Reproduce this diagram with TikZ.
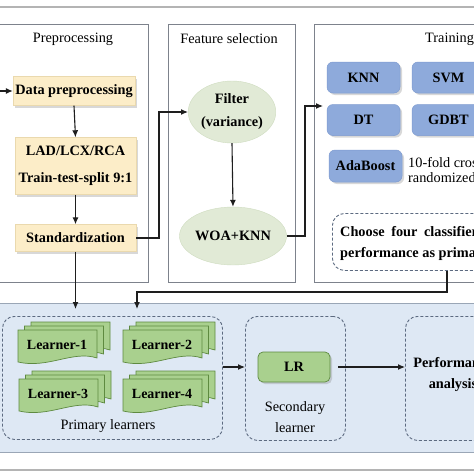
\documentclass[tikz,border=0pt]{standalone}
\usepackage{fontspec}
\setmainfont{Liberation Serif}
\usetikzlibrary{arrows.meta,shadows,shapes.geometric,calc}
\definecolor{yfill}{HTML}{FCEDC8}
\definecolor{yedge}{HTML}{EAD9AE}
\definecolor{bfill}{HTML}{8EAADB}
\definecolor{bedge}{HTML}{7E9BD0}
\definecolor{gfill}{HTML}{E1EAD6}
\definecolor{gedge}{HTML}{CFDCC0}
\definecolor{lfill}{HTML}{A9D08E}
\definecolor{ledge}{HTML}{5E8A40}
\definecolor{panelc}{HTML}{7D828C}
\definecolor{dashc}{HTML}{5C6A80}
\definecolor{bluebg}{HTML}{DEE8F4}
\definecolor{bluedge}{HTML}{9AA6B6}
\definecolor{arrowc}{HTML}{1E1E1E}
\definecolor{topc}{HTML}{B4B4B4}
\newcommand\learnerstack[4]{%
  \begin{scope}[shift={(#2,#3)}]
    \foreach \k in {2,1,0}{
      \path[lpaper, shift={(6.5*\k,-4*\k)}] (0,0) -- (79,0) -- (79,28)
        .. controls (55,20) and (30,39) .. (0,32) -- cycle;
    }
    \node[ltext] (#1) at (39,15) {#4};
  \end{scope}}
\begin{document}
\begin{tikzpicture}[x=1pt,y=-1pt,
  font=\fontsize{14.3}{17}\selectfont,
  arr/.style={-{Latex[length=7pt,width=6pt]}, line width=1.1pt, draw=arrowc},
  panel/.style={draw=panelc, line width=0.9pt},
  topline/.style={draw=topc, line width=1.6pt},
  ybox/.style={fill=yfill, draw=yedge, line width=0.4pt, inner sep=0pt, align=center,
    font=\fontsize{14.3}{17}\selectfont\bfseries,
    drop shadow={shadow xshift=2pt, shadow yshift=-2pt, opacity=0.3}},
  bbox/.style={fill=bfill, draw=bedge, line width=0.5pt, rounded corners=6pt, inner sep=0pt,
    minimum width=73, minimum height=31, font=\fontsize{14.3}{17}\selectfont\bfseries,
    drop shadow={shadow xshift=2pt, shadow yshift=-2pt, opacity=0.3}},
  gell/.style={ellipse, fill=gfill, draw=gedge, line width=0.4pt, inner sep=0pt, align=center,
    font=\fontsize{14.3}{17}\selectfont\bfseries},
  dbox/.style={draw=dashc, dash pattern=on 3pt off 2pt, line width=0.9pt, rounded corners=12pt, inner sep=0pt},
  lpaper/.style={fill=lfill, draw=ledge, line width=0.7pt},
  ltext/.style={font=\fontsize{14}{17}\selectfont\bfseries, inner sep=0pt},
  lrbox/.style={fill=lfill, draw=ledge, line width=0.7pt, rounded corners=5pt, inner sep=0pt,
    minimum width=72, minimum height=30, font=\fontsize{14.3}{17}\selectfont\bfseries,
    drop shadow={shadow xshift=2pt, shadow yshift=-2pt, opacity=0.3}},
  txt/.style={inner sep=0pt},
  btxt/.style={inner sep=0pt, font=\fontsize{14.3}{17}\selectfont\bfseries}]
\path[use as bounding box, clip] (0,0) rectangle (474,474);
\fill[white] (0,0) rectangle (474,474);
% outer lines
\draw[topline] (-5,7) -- (480,7);
\draw[topline] (-5,470) -- (480,470);
% top panels
\draw[panel] (-10,24) rectangle (148,282);
\draw[panel] (168,24) rectangle (295,282);
\draw[panel] (314,24) rectangle (540,282);
\node[txt] (tprep) at (73,39) {Preprocessing};
\node[txt] (tfs) at (229,39) {Feature selection};
\node[txt, anchor=west] (ttr) at (425,39) {Training};
% preprocessing
\node[ybox, minimum width=122, minimum height=29] (dp) at (74,91) {Data preprocessing};
\node[ybox, minimum width=121, minimum height=57, font=\fontsize{14.3}{17}\selectfont\bfseries] (lad) at (75.5,166) {LAD/LCX/RCA\\[10pt]Train-test-split 9:1};
\node[ybox, minimum width=121, minimum height=27] (std) at (75.5,238) {Standardization};
% feature selection
\node[gell, minimum width=86, minimum height=62] (filter) at (232,112) {Filter\\[6pt](variance)};
\node[gell, minimum width=88, minimum height=58] (woa) at (233,236) {WOA+KNN};
% training
\node[bbox] (knn) at (363.5,77.5) {KNN};
\node[bbox] (svm) at (448.5,77.5) {SVM};
\node[bbox] (dt) at (363.5,120) {DT};
\node[bbox] (gdbt) at (448.5,120) {GDBT};
\node[bbox, minimum height=32] (ada) at (365.5,166) {AdaBoost};
\node[txt, anchor=west] (cv1) at (408,163) {10-fold cross-validation};
\node[txt, anchor=west] (cv2) at (408,178) {randomized search};
\node[dbox, anchor=north west, minimum width=228, minimum height=57] (choose) at (332,213) {};
\node[btxt, anchor=west] (ch1) at (340,232) {Choose\hspace{3pt} four\hspace{3pt} classifiers with best};
\node[btxt, anchor=west] (ch2) at (340,254) {performance as primary learners};
% bottom panel
\path[fill=bluebg, draw=bluedge, line width=0.9pt] (-5,303) rectangle (480,452);
\node[dbox, anchor=north west, minimum width=220, minimum height=123] (prim) at (2,316) {};
\node[dbox, anchor=north west, minimum width=100, minimum height=124] (sec) at (245,316) {};
\node[dbox, anchor=north west, minimum width=110, minimum height=124] (perf) at (405,316) {};
\learnerstack{l1}{18}{330}{Learner-1}
\learnerstack{l2}{123}{330}{Learner-2}
\learnerstack{l3}{19}{379}{Learner-3}
\learnerstack{l4}{123}{379}{Learner-4}
\node[txt] (tprim) at (108,426) {Primary learners};
\node[lrbox] (lr) at (294,367) {LR};
\node[txt] (tsec1) at (295,408) {Secondary};
\node[txt] (tsec2) at (295,428) {learner};
\node[btxt] (perf1) at (453,363) {Performance};
\node[btxt] (perf2) at (453,385) {analysis};
% coordinates
\coordinate (in) at (-2,91);
\coordinate (jx) at (159,0);
\coordinate (jx2) at (305,0);
\coordinate (tin) at (323,106);
\coordinate (pin1) at (75.5,309);
\coordinate (bend) at (447,292);
\coordinate (pin2) at (137,309);
% connectors
\draw[arr] (in) -- (dp.west);
\draw[arr] (dp.south) -- (lad.north);
\draw[arr] (lad.south) -- (std.north);
\draw[arr] (std.east) -- (std.east -| jx) |- (filter.west);
\draw[arr] (filter.south) -- (woa.north);
\draw[arr] (woa.east) -- (woa.east -| jx2) |- (tin);
\draw[arr] (std.south) -- (pin1);
\draw[arr] (choose.south -| bend) -- (bend) -| (pin2);
\draw[arr] (prim.east |- lr) -- (sec.west |- lr);
\draw[arr] ([xshift=8pt]lr.east) -- (perf.west |- lr);
\end{tikzpicture}
\end{document}
